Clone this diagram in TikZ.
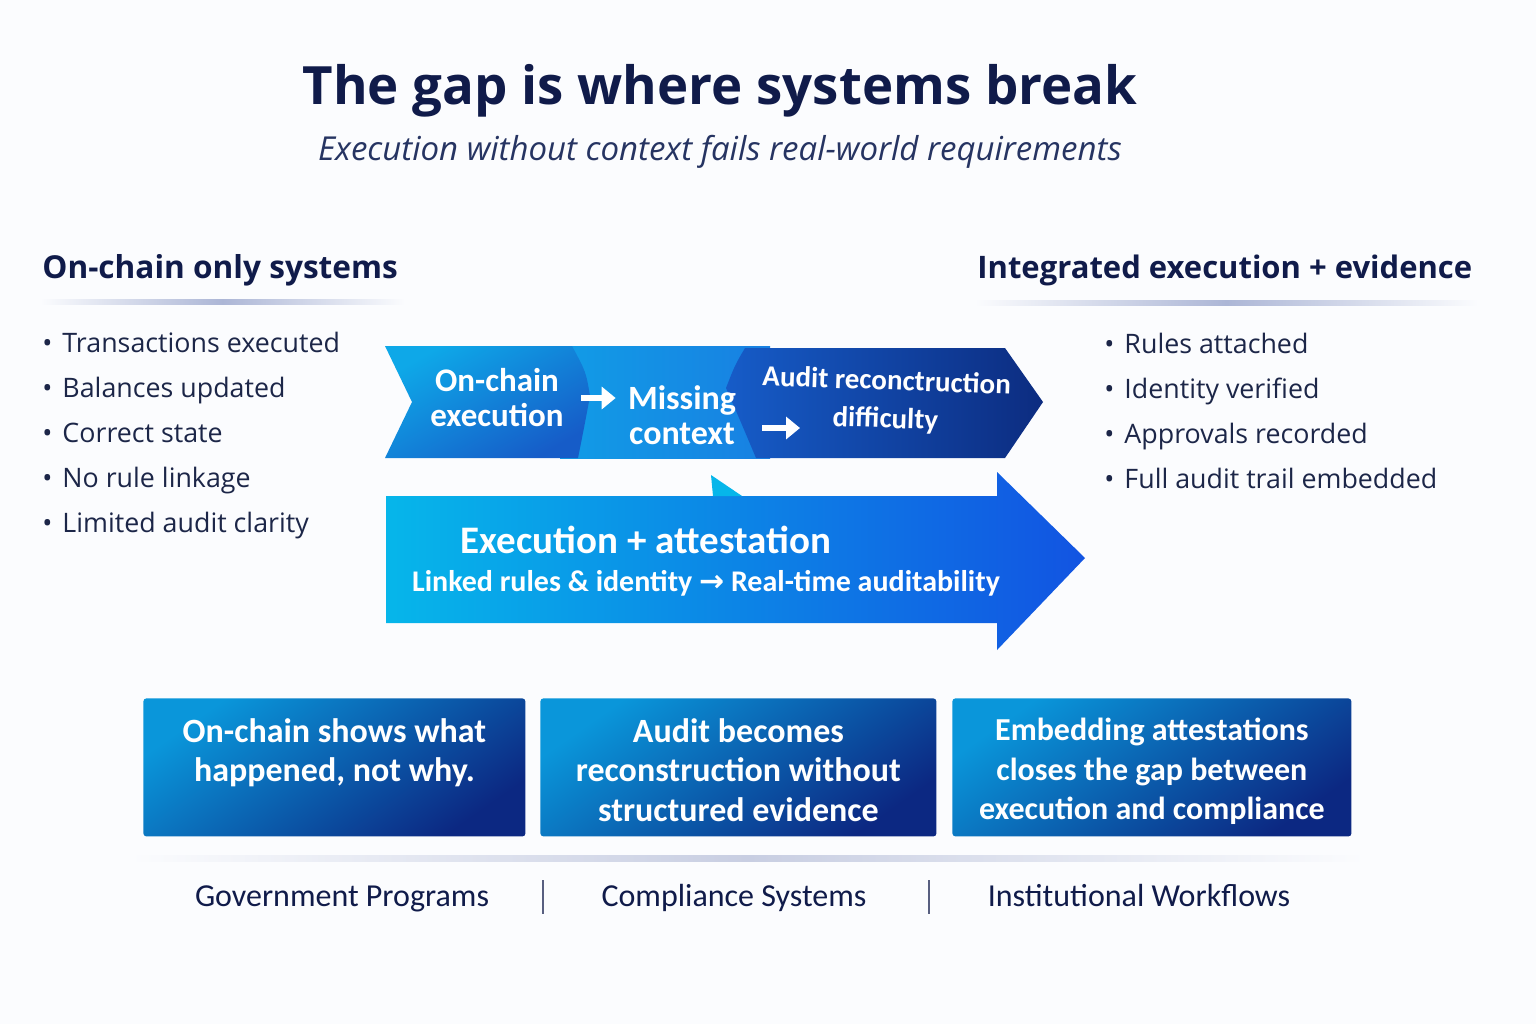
\documentclass[tikz,border=0pt]{standalone}
\usepackage{fontspec}
\setmainfont{Open Sans}
\newfontfamily\narrowfont{Carlito}
\newfontfamily\symbfont{DejaVu Sans}
\usetikzlibrary{arrows.meta, positioning, calc}
\definecolor{InkNavy}{RGB}{16,27,74}
\definecolor{SubInk}{RGB}{38,52,98}
\definecolor{BodyInk}{RGB}{28,38,72}
\definecolor{RuleBlue}{RGB}{172,182,214}
\definecolor{FaintRule}{RGB}{200,206,226}
\definecolor{PageBg}{RGB}{251,252,254}
\definecolor{SkyBlue}{RGB}{14,168,232}
\definecolor{BandBlue}{RGB}{24,128,226}
\definecolor{RoyalBlue}{RGB}{22,92,200}
\definecolor{DeepNavy}{RGB}{12,44,128}
\definecolor{ArrowCyan}{RGB}{6,182,234}
\definecolor{ArrowBlue}{RGB}{18,84,226}
\definecolor{BoxLight}{RGB}{10,150,218}
\definecolor{BoxDark}{RGB}{12,40,130}
\tikzset{
  >=latex,
  % titoli
  title text/.style={text=InkNavy,font=\bfseries\fontsize{26.4}{30}\selectfont,inner sep=0,anchor=base},
  sub text/.style={text=SubInk,font=\itshape\fontsize{16.5}{19}\selectfont,inner sep=0,anchor=base},
  head text/.style={text=InkNavy,font=\bfseries\fontsize{15.8}{18}\selectfont,inner sep=0,anchor=base west},
  head rule/.style={left color=PageBg,right color=PageBg,middle color=RuleBlue},
  list item/.style={text=BodyInk,font=\fontsize{13.4}{16}\selectfont,inner sep=0,anchor=base west},
  % fascia e freccia
  band text/.style={text=white,font=\narrowfont\bfseries\fontsize{16.5}{17.5}\selectfont,inner sep=0,align=center},
  flow arrow/.style={white,line width=3.2pt,-{Triangle[length=7pt,width=11pt]}},
  % riquadri
  info box/.style={rounded corners=1.5pt,top color=BoxLight,bottom color=BoxDark,shading angle=35,inner sep=0,anchor=north west},
  box text/.style={text=white,font=\narrowfont\bfseries\fontsize{17}{19.7}\selectfont,inner sep=0,align=center,anchor=north},
  field text/.style={text=InkNavy,font=\narrowfont\fontsize{16}{18}\selectfont,inner sep=0,anchor=base},
  field sep/.style={InkNavy!70,line width=0.6pt}
}
\begin{document}
\begin{tikzpicture}[x=0.5pt,y=-0.5pt]
  \fill[PageBg] (0,0) rectangle (1536,1024);
  \useasboundingbox (0,0) rectangle (1536,1024);
  % heading
  \node[title text] (title) at (720,104) {The gap is where systems break};
  \node[sub text] (subtitle) at (720,160) {Execution without context fails real-world requirements};
  % side headings
  \node[head text] (lhead) at (42,278) {On-chain only systems};
  \node[head text,font=\bfseries\fontsize{15.5}{18}\selectfont] (rhead) at (977,278) {Integrated execution + evidence};
  \fill[head rule] (40,299) rectangle (405,304);
  \fill[head rule] (975,300) rectangle (1478,305);
  % bullet lists
  \foreach \txt [count=\i] in {Transactions executed,Balances updated,Correct state,No rule linkage,Limited audit clarity}
    \node[list item] (lb\i) at (42,{307+45*\i}) {\textbullet\hspace{5pt}\txt};
  \foreach \txt [count=\i] in {Rules attached,Identity verified,Approvals recorded,Full audit trail embedded}
    \node[list item] (rb\i) at (1104,{308+45*\i}) {\textbullet\hspace{5pt}\txt};
  % chevron band
  \shade[left color=SkyBlue!70!BandBlue,right color=BandBlue] (560,346) rectangle (770,458);
  \shade[top color=SkyBlue,bottom color=RoyalBlue,shading angle=30]
    (385,346) -- (572,346) .. controls (586,372) .. (590,396)
    .. controls (584,428) .. (578,458) -- (385,458) -- (412,402) -- cycle;
  \shade[left color=RoyalBlue,right color=DeepNavy]
    (745,348) -- (1005,348) -- (1043,402) -- (1005,458) -- (756,458)
    .. controls (740,420) .. (726,388) .. controls (735,365) .. (745,348) -- cycle;
  \node[band text] (oce) at (497,398) {On-chain\\execution};
  \node[band text,font=\narrowfont\bfseries\fontsize{17}{17.5}\selectfont] (mctx) at (682,415) {Missing\\context};
  \node[band text,font=\narrowfont\bfseries\fontsize{14.5}{19}\selectfont,rotate=-2] (audit) at (886,401) {Audit reconctruction\\difficulty};
  \coordinate (nexttip) at (800,428);
  \draw[flow arrow,shorten <=8.5pt,shorten >=6pt] (oce.east) -- (oce.east -| mctx.west);
  \draw[flow arrow,shorten <=13pt] (mctx.east |- nexttip) -- (nexttip);
  % big arrow
  \shade[left color=ArrowCyan,right color=ArrowBlue]
    (386,496) -- (997,496) -- (997,472) -- (1085,558) -- (997,650) -- (997,623) -- (386,623) -- cycle;
  \fill[ArrowCyan] (711,475) -- (742,496) -- (713,496) -- cycle;
  \node[band text,font=\narrowfont\bfseries\fontsize{19.5}{20}\selectfont] (exattest) at (646,540) {Execution + attestation};
  \node[band text,font=\narrowfont\bfseries\fontsize{15}{18}\selectfont] (exlinked) at (706,583) {Linked rules \& identity {\symbfont→} Real-time auditability};
  % takeaway boxes
  \node[info box,minimum width=191pt,minimum height=69pt] (box1) at (143,698) {};
  \node[info box,minimum width=198pt,minimum height=69pt] (box2) at (540,698) {};
  \node[info box,minimum width=199.5pt,minimum height=69pt] (box3) at (952,698) {};
  \node[box text] (box1t) at ([yshift=-10pt]box1.north) {On-chain shows what\\happened, not why.};
  \node[box text] (box2t) at ([yshift=-10pt]box2.north) {Audit becomes\\reconstruction without\\structured evidence};
  \node[box text,font=\narrowfont\bfseries\fontsize{16}{19.7}\selectfont] (box3t) at ([yshift=-10pt]box3.north) {Embedding attestations\\closes the gap between\\execution and compliance};
  % fields
  \fill[left color=PageBg,right color=PageBg,middle color=FaintRule] (130,855) rectangle (1365,861);
  \node[field text] (gov) at (342,906) {Government Programs};
  \node[field text] (comp) at (734,906) {Compliance Systems};
  \node[field text] (inst) at (1139,906) {Institutional Workflows};
  \draw[field sep] (543,880) -- (543,914);
  \draw[field sep] (929,880) -- (929,914);
\end{tikzpicture}
\end{document}
